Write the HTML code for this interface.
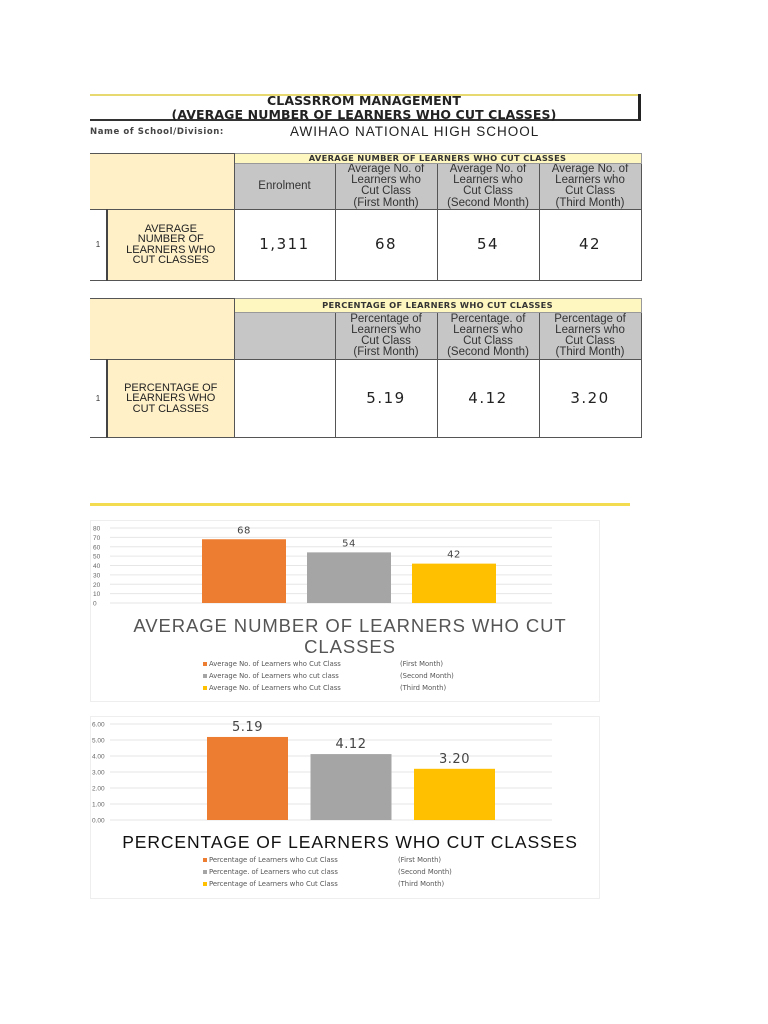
<!DOCTYPE html>
<html><head><meta charset="utf-8"><style>
body{margin:0;width:768px;height:1024px;background:#fff;position:relative;font-family:"Liberation Sans",sans-serif;overflow:hidden}
.a{position:absolute}
table{border-collapse:collapse;position:absolute;left:90px;table-layout:fixed}
td{border:1px solid #555;text-align:center;padding:0;font-size:11.5px;color:#333;line-height:11.2px;overflow:hidden;white-space:nowrap}
.yl{background:#fff7c0;font-weight:bold;font-size:8.3px;border-color:#999;font-family:"DejaVu Sans",sans-serif;letter-spacing:.3px;line-height:9px}
.gr{background:#c6c6c6}
.lb{background:#fff0c8;font-size:11px;color:#222;line-height:10.5px}
.num{font-size:8px;border-right:2px solid #444}
.val{font-size:15px;font-family:"DejaVu Sans",sans-serif;color:#222;letter-spacing:1.5px}
</style></head><body>
<div class="a" style="left:90px;top:94px;width:548px;height:2px;background:#e8d870"></div>
<div class="a" style="left:90px;top:94px;width:548px;height:25px;border-bottom:2px solid #333;border-right:3px solid #222;text-align:center;font-weight:bold;font-size:12.5px;line-height:13.5px;color:#222;font-family:'DejaVu Sans',sans-serif;letter-spacing:.1px">CLASSRROM MANAGEMENT<br>(AVERAGE NUMBER OF LEARNERS WHO CUT CLASSES)</div>
<div class="a" style="left:90px;top:127px;font-size:8.5px;font-weight:bold;color:#444;letter-spacing:.6px;font-family:'DejaVu Sans',sans-serif">Name of School/Division:</div>
<div class="a" style="left:290px;top:124px;font-size:13.5px;color:#222;letter-spacing:1px">AWIHAO NATIONAL HIGH SCHOOL</div>

<table style="top:153px;width:551px">
<colgroup><col style="width:17px"><col style="width:127px"><col style="width:101px"><col style="width:102px"><col style="width:102px"><col style="width:102px"></colgroup>
<tr style="height:10px"><td colspan="2" rowspan="2" class="lb" style="border-left:none"></td><td colspan="4" class="yl">AVERAGE NUMBER OF LEARNERS WHO CUT CLASSES</td></tr>
<tr style="height:45px"><td class="gr">Enrolment</td><td class="gr">Average No. of<br>Learners who<br>Cut Class<br>(First Month)</td><td class="gr">Average No. of<br>Learners who<br>Cut Class<br>(Second Month)</td><td class="gr">Average No. of<br>Learners who<br>Cut Class<br>(Third Month)</td></tr>
<tr style="height:71px"><td class="num" style="border-left:none">1</td><td class="lb">AVERAGE<br>NUMBER OF<br>LEARNERS WHO<br>CUT CLASSES</td><td class="val">1,311</td><td class="val">68</td><td class="val">54</td><td class="val">42</td></tr>
</table>

<table style="top:298px;width:551px">
<colgroup><col style="width:17px"><col style="width:127px"><col style="width:101px"><col style="width:102px"><col style="width:102px"><col style="width:102px"></colgroup>
<tr style="height:14px"><td colspan="2" rowspan="2" class="lb" style="border-left:none"></td><td colspan="4" class="yl">PERCENTAGE OF LEARNERS WHO CUT CLASSES</td></tr>
<tr style="height:47px"><td class="gr"></td><td class="gr">Percentage of<br>Learners who<br>Cut Class<br>(First Month)</td><td class="gr">Percentage. of<br>Learners who<br>Cut Class<br>(Second Month)</td><td class="gr">Percentage of<br>Learners who<br>Cut Class<br>(Third Month)</td></tr>
<tr style="height:78px"><td class="num" style="border-left:none">1</td><td class="lb">PERCENTAGE OF<br>LEARNERS WHO<br>CUT CLASSES</td><td class="val"></td><td class="val">5.19</td><td class="val">4.12</td><td class="val">3.20</td></tr>
</table>

<div class="a" style="left:90px;top:503px;width:540px;height:3px;background:#f3dc50"></div>

<div class="a" style="left:90px;top:520px;width:508px;height:180px;border:1px solid #eee"></div>
<div class="a" style="left:90px;top:716px;width:508px;height:181px;border:1px solid #eee"></div>
<svg class="a" style="left:0;top:0" width="768" height="1024" id="svg"></svg>

<script>
const categories=["First Month","Second Month","Third Month"];
const avgValues=[68,54,42];
const avgLabels=["68","54","42"];
const avgTicks=["0","10","20","30","40","50","60","70","80"];
const pctValues=[5.19,4.12,3.20];
const pctLabels=["5.19","4.12","3.20"];
const pctTicks=["0.00","1.00","2.00","3.00","4.00","5.00","6.00"];
const avgLegend=["Average No. of Learners who Cut Class","Average No. of Learners who cut class","Average No. of Learners who Cut Class"];
const pctLegend=["Percentage of Learners who Cut Class","Percentage. of Learners who cut class","Percentage of Learners who Cut Class"];
const colors=["#ed7d31","#a5a5a5","#ffc000"];
const NS="http://www.w3.org/2000/svg";
const svg=document.getElementById('svg');
function mk(t,a,txt){const e=document.createElementNS(NS,t);for(const k in a)e.setAttribute(k,a[k]);if(txt!=null)e.textContent=txt;svg.appendChild(e);return e;}
function chart(o){
  const y=v=>o.y0-(v/o.max)*(o.y0-o.y1);
  o.ticks.forEach((t,i)=>{const v=o.max*i/(o.ticks.length-1);const yy=y(v);
    const g=mk('line',{x1:110,x2:552,y1:yy,y2:yy,stroke:'#e6e6e6','stroke-width':1});
    
    const tx=mk('text',{x:o.tx,y:yy+2.5,'font-size':6.5,fill:'#666','font-family':'Liberation Sans'},t);
    });
  o.vals.forEach((v,i)=>{const x=o.bx+i*o.step;
    const r=mk('rect',{x:x,y:y(v),width:o.bw,height:o.y0-y(v),fill:colors[i]});
    
    const l=mk('text',{x:x+o.bw/2,y:y(v)-o.lo,'font-size':o.lfs,'text-anchor':'middle',fill:'#444','font-family':'DejaVu Sans','letter-spacing':0.5},o.labels[i]);
    });
  o.title.forEach((t,i)=>{const e=mk('text',{x:350,y:o.ty+i*21,'font-size':o.tfs,'text-anchor':'middle',fill:o.tc,'font-family':'Liberation Sans','letter-spacing':o.tls},t);
    });
  o.legend.forEach((t,i)=>{const yy=o.ly+i*12;
    const s=mk('rect',{x:203,y:yy-4,width:4,height:4,fill:colors[i]});
    const a=mk('text',{x:209,y:yy,'font-size':6.8,fill:'#555','font-family':'DejaVu Sans'},t);
    const b=mk('text',{x:o.lx2,y:yy,'font-size':6.8,fill:'#555','font-family':'DejaVu Sans'},'('+categories[i]+')');});
}
chart({vals:avgValues,labels:avgLabels,ticks:avgTicks,max:80,y0:603,y1:528,tx:93,bx:202,step:105,bw:84,lo:6,lfs:10,
  title:["AVERAGE NUMBER OF LEARNERS WHO CUT","CLASSES"],ty:632,tfs:18.5,tc:'#555',tls:0.9,legend:avgLegend,ly:666,lx2:400});
chart({vals:pctValues,labels:pctLabels,ticks:pctTicks,max:6,y0:820,y1:724,tx:92,bx:207,step:103.5,bw:81,lo:6,lfs:13,
  title:["PERCENTAGE OF LEARNERS WHO CUT CLASSES"],ty:848,tfs:17.5,tc:'#111',tls:0.9,legend:pctLegend,ly:862,lx2:398});
</script>
</body></html>
